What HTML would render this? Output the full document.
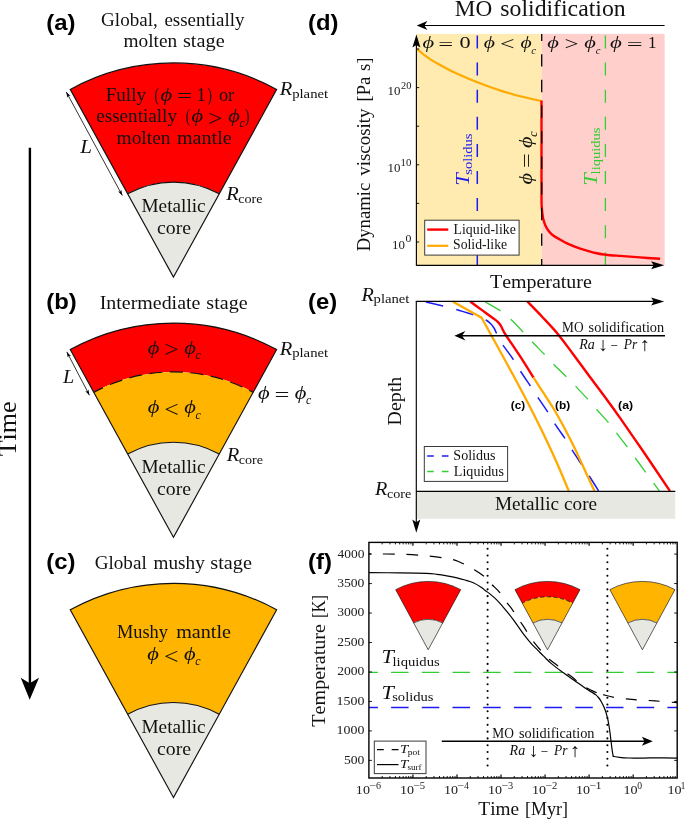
<!DOCTYPE html>
<html lang="en"><head><meta charset="utf-8"><title>Magma ocean solidification stages</title>
<style>html,body{margin:0;padding:0;background:#fff;}svg{display:block;font-family:"Liberation Serif", "DejaVu Serif", serif;fill:#111;font-kerning:none;}.sn{font-family:"Liberation Sans", "DejaVu Sans", sans-serif;}</style>
</head><body>
<svg width="685" height="820" viewBox="0 0 685 820">
<rect width="685" height="820" fill="#fff"/>
<line x1="29.90" y1="147.70" x2="29.90" y2="685.00" stroke="#000" stroke-width="2.4" />
<polygon points="29.7,699.8 20.7,677.8 29.7,683.3 39,677.8" fill="#000"/>
<text transform="translate(15.90 455.90) rotate(-90)" x="-0.47" y="0" font-size="24.4" textLength="55.08" lengthAdjust="spacingAndGlyphs" >Time</text>
<text x="46.21" y="29.60" font-size="22.9" textLength="29.18" lengthAdjust="spacingAndGlyphs" font-weight="bold" class="sn" fill="#000" >(a)</text>
<text x="46.21" y="308.90" font-size="22.9" textLength="30.48" lengthAdjust="spacingAndGlyphs" font-weight="bold" class="sn" fill="#000" >(b)</text>
<text x="46.21" y="569.10" font-size="22.9" textLength="29.18" lengthAdjust="spacingAndGlyphs" font-weight="bold" class="sn" fill="#000" >(c)</text>
<text x="308.02" y="29.60" font-size="22.9" textLength="30.37" lengthAdjust="spacingAndGlyphs" font-weight="bold" class="sn" fill="#000" >(d)</text>
<text x="308.02" y="309.10" font-size="22.9" textLength="29.07" lengthAdjust="spacingAndGlyphs" font-weight="bold" class="sn" fill="#000" >(e)</text>
<text x="308.01" y="568.70" font-size="22.9" textLength="23.88" lengthAdjust="spacingAndGlyphs" font-weight="bold" class="sn" fill="#000" >(f)</text>
<path d="M127.68,193.85 L70.26,89.40 A214.20,214.20 0 0 1 276.64,89.40 L219.22,193.85 A95.00,95.00 0 0 0 127.68,193.85 Z" fill="#ff0000"/>
<path d="M173.45,277.10 L127.68,193.85 A95.00,95.00 0 0 1 219.22,193.85 Z" fill="#e8e8e3"/>
<path d="M173.45,277.10 L70.26,89.40 A214.20,214.20 0 0 1 276.64,89.40 Z" fill="none" stroke="#111" stroke-width="1.15" stroke-linejoin="miter"/>
<path d="M127.68,193.85 A95.00,95.00 0 0 1 219.22,193.85" fill="none" stroke="#111" stroke-width="1.15"/>
<text x="101.12" y="25.60" font-size="18.8" textLength="56.58" lengthAdjust="spacingAndGlyphs" >Global,</text>
<text x="164.46" y="25.60" font-size="18.8" textLength="80.01" lengthAdjust="spacingAndGlyphs" >essentially</text>
<text x="123.49" y="47.20" font-size="18.8" textLength="53.70" lengthAdjust="spacingAndGlyphs" >molten</text>
<text x="182.97" y="47.20" font-size="18.8" textLength="41.74" lengthAdjust="spacingAndGlyphs" >stage</text>
<text x="105.65" y="100.90" font-size="18.8" textLength="40.43" lengthAdjust="spacingAndGlyphs" >Fully</text>
<text x="154.62" y="100.90" font-size="18.8" textLength="4.41" lengthAdjust="spacingAndGlyphs" >(</text>
<text x="207.57" y="100.90" font-size="18.8" textLength="4.41" lengthAdjust="spacingAndGlyphs" >)</text>
<text x="218.90" y="100.90" font-size="18.8" textLength="15.26" lengthAdjust="spacingAndGlyphs" >or</text>
<text x="160.58" y="100.70" font-size="18.2" textLength="11.64" lengthAdjust="spacingAndGlyphs" font-style="italic" >ϕ</text>
<text x="177.05" y="102.40" font-size="19" textLength="15.27" lengthAdjust="spacingAndGlyphs" >=</text>
<text x="196.45" y="100.90" font-size="18.05" textLength="9.37" lengthAdjust="spacingAndGlyphs" >1</text>
<text x="96.25" y="122.40" font-size="18.8" textLength="80.72" lengthAdjust="spacingAndGlyphs" >essentially</text>
<text x="185.72" y="122.40" font-size="18.8" textLength="4.41" lengthAdjust="spacingAndGlyphs" >(</text>
<text x="244.97" y="122.40" font-size="18.8" textLength="4.41" lengthAdjust="spacingAndGlyphs" >)</text>
<text x="191.58" y="122.20" font-size="18.2" textLength="11.64" lengthAdjust="spacingAndGlyphs" font-style="italic" >ϕ</text>
<text x="208.09" y="125.70" font-size="23.5" textLength="14.54" lengthAdjust="spacingAndGlyphs" >&gt;</text>
<text x="228.18" y="122.20" font-size="18.2" textLength="11.64" lengthAdjust="spacingAndGlyphs" font-style="italic" >ϕ</text>
<text x="239.43" y="127.40" font-size="11.5" textLength="5.30" lengthAdjust="spacingAndGlyphs" font-style="italic" >c</text>
<text x="116.59" y="143.80" font-size="18.8" textLength="53.90" lengthAdjust="spacingAndGlyphs" >molten</text>
<text x="176.98" y="143.80" font-size="18.8" textLength="54.72" lengthAdjust="spacingAndGlyphs" >mantle</text>
<text x="141.44" y="212.40" font-size="18.8" textLength="64.25" lengthAdjust="spacingAndGlyphs" >Metallic</text>
<text x="157.05" y="234.40" font-size="18.8" textLength="34.04" lengthAdjust="spacingAndGlyphs" >core</text>
<text x="279.81" y="95.40" font-size="18.8" textLength="12.53" lengthAdjust="spacingAndGlyphs" font-style="italic" >R</text>
<text x="292.16" y="97.80" font-size="12.6" textLength="36.02" lengthAdjust="spacingAndGlyphs" >planet</text>
<text x="226.21" y="200.40" font-size="18.8" textLength="12.53" lengthAdjust="spacingAndGlyphs" font-style="italic" >R</text>
<text x="238.26" y="202.80" font-size="12.6" textLength="24.33" lengthAdjust="spacingAndGlyphs" >core</text>
<text x="80.25" y="153.40" font-size="18.8" textLength="11.75" lengthAdjust="spacingAndGlyphs" font-style="italic" >L</text>
<line x1="66.30" y1="92.00" x2="122.30" y2="195.50" stroke="#000" stroke-width="0.8" />
<polygon points="122.30,195.50 118.10,191.52 120.25,191.72 121.27,189.81" fill="#000"/>
<polygon points="66.30,92.00 70.50,95.98 68.35,95.78 67.33,97.69" fill="#000"/>
<path d="M93.77,392.36 L70.26,349.60 A214.20,214.20 0 0 1 276.64,349.60 L253.13,392.36 A165.40,165.40 0 0 0 93.77,392.36 Z" fill="#ff0000"/>
<path d="M127.68,454.05 L93.77,392.36 A165.40,165.40 0 0 1 253.13,392.36 L219.22,454.05 A95.00,95.00 0 0 0 127.68,454.05 Z" fill="#ffb400"/>
<path d="M173.45,537.30 L127.68,454.05 A95.00,95.00 0 0 1 219.22,454.05 Z" fill="#e8e8e3"/>
<path d="M173.45,537.30 L70.26,349.60 A214.20,214.20 0 0 1 276.64,349.60 Z" fill="none" stroke="#111" stroke-width="1.15" stroke-linejoin="miter"/>
<path d="M127.68,454.05 A95.00,95.00 0 0 1 219.22,454.05" fill="none" stroke="#111" stroke-width="1.15"/>
<path d="M93.77,392.36 A165.40,165.40 0 0 1 253.13,392.36" fill="none" stroke="#111" stroke-width="1.2" stroke-dasharray="13 7.5" stroke-dashoffset="2.5"/>
<text x="99.68" y="309.10" font-size="18.8" textLength="100.71" lengthAdjust="spacingAndGlyphs" >Intermediate</text>
<text x="206.38" y="309.10" font-size="18.8" textLength="41.22" lengthAdjust="spacingAndGlyphs" >stage</text>
<text x="147.68" y="353.70" font-size="18.2" textLength="11.64" lengthAdjust="spacingAndGlyphs" font-style="italic" >ϕ</text>
<text x="164.19" y="357.20" font-size="23.5" textLength="14.54" lengthAdjust="spacingAndGlyphs" >&gt;</text>
<text x="184.28" y="353.70" font-size="18.2" textLength="11.64" lengthAdjust="spacingAndGlyphs" font-style="italic" >ϕ</text>
<text x="195.53" y="358.90" font-size="11.5" textLength="5.30" lengthAdjust="spacingAndGlyphs" font-style="italic" >c</text>
<text x="147.68" y="413.40" font-size="18.2" textLength="11.64" lengthAdjust="spacingAndGlyphs" font-style="italic" >ϕ</text>
<text x="164.22" y="416.90" font-size="23.5" textLength="14.54" lengthAdjust="spacingAndGlyphs" >&lt;</text>
<text x="184.28" y="413.40" font-size="18.2" textLength="11.64" lengthAdjust="spacingAndGlyphs" font-style="italic" >ϕ</text>
<text x="195.53" y="418.60" font-size="11.5" textLength="5.30" lengthAdjust="spacingAndGlyphs" font-style="italic" >c</text>
<text x="258.08" y="398.90" font-size="18.2" textLength="11.64" lengthAdjust="spacingAndGlyphs" font-style="italic" >ϕ</text>
<text x="274.58" y="400.60" font-size="19" textLength="14.91" lengthAdjust="spacingAndGlyphs" >=</text>
<text x="294.68" y="398.90" font-size="18.2" textLength="11.64" lengthAdjust="spacingAndGlyphs" font-style="italic" >ϕ</text>
<text x="305.93" y="404.10" font-size="11.5" textLength="5.30" lengthAdjust="spacingAndGlyphs" font-style="italic" >c</text>
<text x="141.44" y="472.60" font-size="18.8" textLength="64.25" lengthAdjust="spacingAndGlyphs" >Metallic</text>
<text x="157.05" y="494.60" font-size="18.8" textLength="34.04" lengthAdjust="spacingAndGlyphs" >core</text>
<text x="279.81" y="355.00" font-size="18.8" textLength="12.53" lengthAdjust="spacingAndGlyphs" font-style="italic" >R</text>
<text x="292.16" y="357.40" font-size="12.6" textLength="36.02" lengthAdjust="spacingAndGlyphs" >planet</text>
<text x="226.71" y="461.30" font-size="18.8" textLength="12.53" lengthAdjust="spacingAndGlyphs" font-style="italic" >R</text>
<text x="238.76" y="463.70" font-size="12.6" textLength="24.33" lengthAdjust="spacingAndGlyphs" >core</text>
<text x="62.94" y="382.80" font-size="18.8" textLength="11.22" lengthAdjust="spacingAndGlyphs" font-style="italic" >L</text>
<line x1="66.80" y1="351.90" x2="89.40" y2="395.20" stroke="#000" stroke-width="0.8" />
<polygon points="89.40,395.20 85.26,391.16 87.41,391.39 88.45,389.49" fill="#000"/>
<polygon points="66.80,351.90 70.94,355.94 68.79,355.71 67.75,357.61" fill="#000"/>
<path d="M127.68,714.25 L70.26,609.80 A214.20,214.20 0 0 1 276.64,609.80 L219.22,714.25 A95.00,95.00 0 0 0 127.68,714.25 Z" fill="#ffb400"/>
<path d="M173.45,797.50 L127.68,714.25 A95.00,95.00 0 0 1 219.22,714.25 Z" fill="#e8e8e3"/>
<path d="M173.45,797.50 L70.26,609.80 A214.20,214.20 0 0 1 276.64,609.80 Z" fill="none" stroke="#111" stroke-width="1.15" stroke-linejoin="miter"/>
<path d="M127.68,714.25 A95.00,95.00 0 0 1 219.22,714.25" fill="none" stroke="#111" stroke-width="1.15"/>
<text x="94.72" y="569.10" font-size="18.8" textLength="51.97" lengthAdjust="spacingAndGlyphs" >Global</text>
<text x="153.60" y="569.10" font-size="18.8" textLength="51.18" lengthAdjust="spacingAndGlyphs" >mushy</text>
<text x="210.27" y="569.10" font-size="18.8" textLength="41.74" lengthAdjust="spacingAndGlyphs" >stage</text>
<text x="116.97" y="638.40" font-size="18.8" textLength="51.00" lengthAdjust="spacingAndGlyphs" >Mushy</text>
<text x="176.18" y="638.40" font-size="18.8" textLength="54.82" lengthAdjust="spacingAndGlyphs" >mantle</text>
<text x="147.38" y="660.20" font-size="18.2" textLength="11.64" lengthAdjust="spacingAndGlyphs" font-style="italic" >ϕ</text>
<text x="163.92" y="663.70" font-size="23.5" textLength="14.54" lengthAdjust="spacingAndGlyphs" >&lt;</text>
<text x="183.98" y="660.20" font-size="18.2" textLength="11.64" lengthAdjust="spacingAndGlyphs" font-style="italic" >ϕ</text>
<text x="195.23" y="665.40" font-size="11.5" textLength="5.30" lengthAdjust="spacingAndGlyphs" font-style="italic" >c</text>
<text x="141.44" y="732.80" font-size="18.8" textLength="64.25" lengthAdjust="spacingAndGlyphs" >Metallic</text>
<text x="157.05" y="754.80" font-size="18.8" textLength="34.04" lengthAdjust="spacingAndGlyphs" >core</text>
<rect x="416.4" y="33.9" width="125.30" height="231.40" fill="#ffebb0"/>
<rect x="541.7" y="33.9" width="122.90" height="231.40" fill="#ffd0cb"/>
<text x="454.83" y="16.10" font-size="22.5" textLength="37.42" lengthAdjust="spacingAndGlyphs" >MO</text>
<text x="500.33" y="16.10" font-size="22.5" textLength="125.33" lengthAdjust="spacingAndGlyphs" >solidification</text>
<line x1="424.00" y1="25.50" x2="664.60" y2="25.50" stroke="#000" stroke-width="1.2" />
<polygon points="416.70,25.50 427.40,21.05 424.40,25.50 427.40,29.95" fill="#000"/>
<line x1="477.30" y1="265.30" x2="477.30" y2="33.90" stroke="#1c1cf2" stroke-width="1.5" stroke-dasharray="13 14.1" />
<line x1="605.40" y1="265.30" x2="605.40" y2="33.90" stroke="#32cd32" stroke-width="1.3" stroke-dasharray="13 14.1" />
<path d="M416.80,49.00 C417.83,49.83 420.73,52.27 423.00,54.00 C425.27,55.73 427.57,57.57 430.40,59.40 C433.23,61.23 436.58,63.12 440.00,65.00 C443.42,66.88 446.90,68.73 450.90,70.70 C454.90,72.67 459.58,74.87 464.00,76.80 C468.42,78.73 473.07,80.60 477.40,82.30 C481.73,84.00 485.90,85.53 490.00,87.00 C494.10,88.47 498.33,89.93 502.00,91.10 C505.67,92.27 508.60,93.05 512.00,94.00 C515.40,94.95 519.07,95.97 522.40,96.80 C525.73,97.63 528.83,98.30 532.00,99.00 C535.17,99.70 539.83,100.67 541.40,101.00" fill="none" stroke="#ffaa00" stroke-width="2.2" stroke-linecap="butt" stroke-linejoin="round" />
<path d="M541.50,100.50 C541.50,108.75 541.50,134.25 541.50,150.00 C541.50,165.75 541.47,185.67 541.50,195.00 C541.53,204.33 541.57,203.00 541.70,206.00 C541.83,209.00 542.05,210.87 542.30,213.00 C542.55,215.13 542.68,216.72 543.20,218.80 C543.72,220.88 544.48,223.47 545.40,225.50 C546.32,227.53 547.35,229.28 548.70,231.00 C550.05,232.72 551.62,234.38 553.50,235.80 C555.38,237.22 557.75,238.25 560.00,239.50 C562.25,240.75 564.45,242.08 567.00,243.30 C569.55,244.52 572.13,245.63 575.30,246.80 C578.47,247.97 582.23,249.18 586.00,250.30 C589.77,251.42 594.60,252.77 597.90,253.50 C601.20,254.23 602.12,254.30 605.80,254.70 C609.48,255.10 614.30,255.45 620.00,255.90 C625.70,256.35 633.32,256.92 640.00,257.40 C646.68,257.88 656.75,258.57 660.10,258.80" fill="none" stroke="#ff0000" stroke-width="2.4" stroke-linecap="butt" stroke-linejoin="round" />
<line x1="541.70" y1="33.90" x2="541.70" y2="265.30" stroke="#000" stroke-width="1.3" stroke-dasharray="12.4 13.2" stroke-dashoffset="5.3"/>
<line x1="416.40" y1="265.30" x2="655.00" y2="265.30" stroke="#000" stroke-width="1.15" />
<polygon points="664.20,265.30 651.10,269.30 653.70,265.30 651.10,261.30" fill="#000"/>
<line x1="416.40" y1="265.85" x2="416.40" y2="44.00" stroke="#000" stroke-width="1.15" />
<polygon points="416.40,34.50 420.40,47.60 416.40,45.00 412.40,47.60" fill="#000"/>
<line x1="416.40" y1="242.00" x2="419.20" y2="242.00" stroke="#000" stroke-width="0.9" />
<line x1="416.40" y1="203.40" x2="419.20" y2="203.40" stroke="#000" stroke-width="0.9" />
<line x1="416.40" y1="164.80" x2="419.20" y2="164.80" stroke="#000" stroke-width="0.9" />
<line x1="416.40" y1="126.20" x2="419.20" y2="126.20" stroke="#000" stroke-width="0.9" />
<line x1="416.40" y1="87.60" x2="419.20" y2="87.60" stroke="#000" stroke-width="0.9" />
<line x1="416.40" y1="49.00" x2="419.20" y2="49.00" stroke="#000" stroke-width="0.9" />
<text x="401.05" y="88.80" font-size="9.6" textLength="10.35" lengthAdjust="spacingAndGlyphs" fill="#202020" >20</text>
<text x="387.46" y="95.00" font-size="12.2" textLength="12.93" lengthAdjust="spacingAndGlyphs" fill="#202020" >10</text>
<text x="400.54" y="166.00" font-size="9.6" textLength="10.87" lengthAdjust="spacingAndGlyphs" fill="#202020" >10</text>
<text x="387.46" y="172.20" font-size="12.2" textLength="12.93" lengthAdjust="spacingAndGlyphs" fill="#202020" >10</text>
<text x="405.55" y="242.40" font-size="9.6" textLength="5.90" lengthAdjust="spacingAndGlyphs" fill="#202020" >0</text>
<text x="391.96" y="248.60" font-size="12.2" textLength="12.93" lengthAdjust="spacingAndGlyphs" fill="#202020" >10</text>
<g transform="translate(370.40 250.70) rotate(-90)">
<text x="-0.54" y="0.00" font-size="18.8" textLength="68.41" lengthAdjust="spacingAndGlyphs" >Dynamic</text>
<text x="75.00" y="0.00" font-size="18.8" textLength="67.17" lengthAdjust="spacingAndGlyphs" >viscosity</text>
<text x="149.23" y="0.00" font-size="18.8" textLength="24.62" lengthAdjust="spacingAndGlyphs" >[Pa</text>
<text x="179.73" y="0.00" font-size="18.8" textLength="13.56" lengthAdjust="spacingAndGlyphs" >s]</text>
</g>
<text x="490.04" y="288.40" font-size="18.5" textLength="101.75" lengthAdjust="spacingAndGlyphs" >Temperature</text>
<text x="422.48" y="48.20" font-size="17" textLength="11.64" lengthAdjust="spacingAndGlyphs" font-style="italic" >ϕ</text>
<text x="438.38" y="49.50" font-size="17.5" textLength="14.91" lengthAdjust="spacingAndGlyphs" >=</text>
<text x="459.46" y="48.20" font-size="16.5" textLength="11.09" lengthAdjust="spacingAndGlyphs" >0</text>
<text x="483.80" y="48.20" font-size="17" textLength="11.20" lengthAdjust="spacingAndGlyphs" font-style="italic" >ϕ</text>
<text x="500.02" y="49.80" font-size="19.7" textLength="14.54" lengthAdjust="spacingAndGlyphs" >&lt;</text>
<text x="520.40" y="48.20" font-size="17" textLength="11.20" lengthAdjust="spacingAndGlyphs" font-style="italic" >ϕ</text>
<text x="531.26" y="53.50" font-size="10.5" textLength="4.85" lengthAdjust="spacingAndGlyphs" font-style="italic" >c</text>
<text x="547.18" y="48.20" font-size="17" textLength="11.64" lengthAdjust="spacingAndGlyphs" font-style="italic" >ϕ</text>
<text x="564.43" y="49.80" font-size="19.7" textLength="14.06" lengthAdjust="spacingAndGlyphs" >&gt;</text>
<text x="584.38" y="48.20" font-size="17" textLength="11.64" lengthAdjust="spacingAndGlyphs" font-style="italic" >ϕ</text>
<text x="595.67" y="53.50" font-size="10.5" textLength="4.74" lengthAdjust="spacingAndGlyphs" font-style="italic" >c</text>
<text x="609.97" y="48.20" font-size="17" textLength="11.86" lengthAdjust="spacingAndGlyphs" font-style="italic" >ϕ</text>
<text x="626.70" y="49.50" font-size="17.5" textLength="15.88" lengthAdjust="spacingAndGlyphs" >=</text>
<text x="648.00" y="48.20" font-size="16.5" textLength="8.52" lengthAdjust="spacingAndGlyphs" >1</text>
<g transform="translate(469.00 184.20) rotate(-90)">
<text x="-1.48" y="0.00" font-size="18.8" textLength="12.54" lengthAdjust="spacingAndGlyphs" font-style="italic" fill="#1c1cf2" >T</text>
<text x="9.50" y="2.50" font-size="12.6" textLength="41.22" lengthAdjust="spacingAndGlyphs" fill="#1c1cf2" >solidus</text>
</g>
<g transform="translate(597.00 184.20) rotate(-90)">
<text x="-1.48" y="0.00" font-size="18.8" textLength="12.54" lengthAdjust="spacingAndGlyphs" font-style="italic" fill="#32cd32" >T</text>
<text x="9.81" y="2.50" font-size="12.6" textLength="46.82" lengthAdjust="spacingAndGlyphs" fill="#32cd32" >liquidus</text>
</g>
<g transform="translate(531.90 184.20) rotate(-90)">
<text x="-0.32" y="-0.20" font-size="18.2" textLength="11.60" lengthAdjust="spacingAndGlyphs" font-style="italic" >ϕ</text>
<text x="16.12" y="1.50" font-size="19" textLength="14.85" lengthAdjust="spacingAndGlyphs" >=</text>
<text x="36.15" y="-0.20" font-size="18.2" textLength="11.60" lengthAdjust="spacingAndGlyphs" font-style="italic" >ϕ</text>
<text x="47.35" y="5.00" font-size="11.5" textLength="5.28" lengthAdjust="spacingAndGlyphs" font-style="italic" >c</text>
</g>
<rect x="424.7" y="220.2" width="94.4" height="34.9" fill="#fff" stroke="#3a3a3a" stroke-width="1"/>
<line x1="427.20" y1="229.60" x2="448.30" y2="229.60" stroke="#ff0000" stroke-width="2.4" />
<line x1="427.20" y1="245.80" x2="448.30" y2="245.80" stroke="#ffaa00" stroke-width="2.2" />
<text x="453.60" y="233.50" font-size="13.8" textLength="62.18" lengthAdjust="spacingAndGlyphs" >Liquid-like</text>
<text x="453.08" y="249.20" font-size="13.8" textLength="53.99" lengthAdjust="spacingAndGlyphs" >Solid-like</text>
<rect x="416.3" y="491.4" width="259.00" height="27.40" fill="#e8e8e3"/>
<path d="M425.90,301.90 C428.75,302.58 437.95,304.75 443.00,306.00 C448.05,307.25 451.23,307.97 456.20,309.40 C461.17,310.83 468.67,313.25 472.80,314.60 C476.93,315.95 478.80,316.60 481.00,317.50 C483.20,318.40 484.42,319.00 486.00,320.00 C487.58,321.00 489.17,322.17 490.50,323.50 C491.83,324.83 493.00,326.38 494.00,328.00 C495.00,329.62 495.58,331.37 496.50,333.20 C497.42,335.03 498.33,336.90 499.50,339.00 C500.67,341.10 501.17,342.33 503.50,345.80 C505.83,349.27 510.58,355.43 513.50,359.80 C516.42,364.17 518.13,367.57 521.00,372.00 C523.87,376.43 527.83,382.10 530.70,386.40 C533.57,390.70 535.28,393.42 538.20,397.80 C541.12,402.18 545.37,408.27 548.20,412.70 C551.03,417.13 552.28,419.93 555.20,424.40 C558.12,428.87 562.87,435.20 565.70,439.50 C568.53,443.80 569.57,446.05 572.20,450.20 C574.83,454.35 578.50,459.85 581.50,464.40 C584.50,468.95 587.32,473.03 590.20,477.50 C593.08,481.97 597.37,488.92 598.80,491.20" fill="none" stroke="#1c1cf2" stroke-width="1.5" stroke-dasharray="17.7 13.6" stroke-linecap="butt" stroke-linejoin="round" />
<path d="M485.10,301.80 C487.72,303.35 496.48,308.15 500.80,311.10 C505.12,314.05 507.20,315.93 511.00,319.50 C514.80,323.07 520.10,328.80 523.60,332.50 C527.10,336.20 528.55,338.07 532.00,341.70 C535.45,345.33 540.72,350.55 544.30,354.30 C547.88,358.05 549.70,360.33 553.50,364.20 C557.30,368.07 563.40,373.80 567.10,377.50 C570.80,381.20 572.20,382.73 575.70,386.40 C579.20,390.07 584.60,395.65 588.10,399.50 C591.60,403.35 593.22,405.55 596.70,409.50 C600.18,413.45 605.62,419.17 609.00,423.20 C612.38,427.23 613.83,429.57 617.00,433.70 C620.17,437.83 624.17,442.87 628.00,448.00 C631.83,453.13 634.75,457.30 640.00,464.50 C645.25,471.70 656.25,486.75 659.50,491.20" fill="none" stroke="#32cd32" stroke-width="1.3" stroke-dasharray="17.8 13.3" stroke-linecap="butt" stroke-linejoin="round" />
<polyline points="452.70,301.50 481.60,317.80" fill="none" stroke="#ffaa00" stroke-width="2.3" stroke-linejoin="round" />
<path d="M481.60,317.80 C484.25,322.58 492.25,336.97 497.50,346.50 C502.75,356.03 507.93,365.42 513.10,375.00 C518.27,384.58 523.53,394.37 528.50,404.00 C533.47,413.63 538.23,423.13 542.90,432.80 C547.57,442.47 552.17,452.27 556.50,462.00 C560.83,471.73 566.83,486.33 568.90,491.20" fill="none" stroke="#ffaa00" stroke-width="2.3" stroke-linecap="round" stroke-linejoin="round" />
<path d="M470.20,301.50 C472.17,302.93 478.07,307.23 482.00,310.10 C485.93,312.97 491.22,316.78 493.80,318.70 C496.38,320.62 496.38,320.52 497.50,321.60 C498.62,322.68 499.37,323.35 500.50,325.20 C501.63,327.05 503.05,330.52 504.30,332.70 C505.55,334.88 505.38,334.38 508.00,338.30 C510.62,342.22 515.75,349.67 520.00,356.20 C524.25,362.73 531.25,373.95 533.50,377.50" fill="none" stroke="#ff0000" stroke-width="2.4" stroke-linecap="butt" stroke-linejoin="round" />
<path d="M533.50,377.50 C535.08,379.95 539.82,387.28 543.00,392.20 C546.18,397.12 549.43,401.78 552.60,407.00 C555.77,412.22 559.08,418.17 562.00,423.50 C564.92,428.83 567.77,434.42 570.10,439.00 C572.43,443.58 574.02,446.83 576.00,451.00 C577.98,455.17 578.90,457.30 582.00,464.00 C585.10,470.70 592.50,486.67 594.60,491.20" fill="none" stroke="#ffaa00" stroke-width="2.3" stroke-linecap="butt" stroke-linejoin="round" />
<path d="M527.30,301.50 C529.92,304.20 537.82,312.17 543.00,317.70 C548.18,323.23 553.40,328.65 558.40,334.70 C563.40,340.75 567.98,347.28 573.00,354.00 C578.02,360.72 583.27,367.95 588.50,375.00 C593.73,382.05 599.15,389.15 604.40,396.30 C609.65,403.45 613.23,408.28 620.00,417.90 C626.77,427.52 636.67,441.78 645.00,454.00 C653.33,466.22 665.83,485.00 670.00,491.20" fill="none" stroke="#ff0000" stroke-width="2.4" stroke-linecap="butt" stroke-linejoin="round" />
<line x1="416.30" y1="491.30" x2="675.30" y2="491.30" stroke="#000" stroke-width="1.2" />
<line x1="415.75" y1="301.40" x2="655.00" y2="301.40" stroke="#000" stroke-width="1.15" />
<polygon points="664.20,301.40 651.10,305.40 653.70,301.40 651.10,297.40" fill="#000"/>
<line x1="416.30" y1="301.40" x2="416.30" y2="523.00" stroke="#000" stroke-width="1.15" />
<polygon points="416.30,532.70 412.30,519.60 416.30,522.20 420.30,519.60" fill="#000"/>
<line x1="461.00" y1="335.80" x2="665.00" y2="335.80" stroke="#000" stroke-width="1.4" />
<polygon points="454.40,335.80 465.40,331.10 462.00,335.80 465.40,340.50" fill="#000"/>
<text x="562.02" y="332.00" font-size="13.9" textLength="21.53" lengthAdjust="spacingAndGlyphs" >MO</text>
<text x="588.61" y="332.00" font-size="13.9" textLength="75.60" lengthAdjust="spacingAndGlyphs" >solidification</text>
<text x="579.28" y="349.00" font-size="13.9" textLength="15.65" lengthAdjust="spacingAndGlyphs" font-style="italic" >Ra</text>
<text x="598.12" y="351.00" font-size="19" textLength="10.45" lengthAdjust="spacingAndGlyphs" >↓</text>
<text x="611.18" y="349.00" font-size="13.9" textLength="5.94" lengthAdjust="spacingAndGlyphs" >–</text>
<text x="623.77" y="349.00" font-size="13.9" textLength="13.49" lengthAdjust="spacingAndGlyphs" font-style="italic" >Pr</text>
<text x="639.82" y="351.00" font-size="19" textLength="10.45" lengthAdjust="spacingAndGlyphs" >↑</text>
<text x="361.41" y="301.00" font-size="18.8" textLength="12.33" lengthAdjust="spacingAndGlyphs" font-style="italic" >R</text>
<text x="373.56" y="303.40" font-size="12.6" textLength="35.92" lengthAdjust="spacingAndGlyphs" >planet</text>
<text x="375.11" y="495.40" font-size="18.8" textLength="12.33" lengthAdjust="spacingAndGlyphs" font-style="italic" >R</text>
<text x="386.96" y="497.80" font-size="12.6" textLength="24.33" lengthAdjust="spacingAndGlyphs" >core</text>
<text transform="translate(401.00 424.90) rotate(-90)" x="-0.57" y="0" font-size="18.8" textLength="48.64" lengthAdjust="spacingAndGlyphs" >Depth</text>
<text x="494.95" y="509.80" font-size="18.8" textLength="64.15" lengthAdjust="spacingAndGlyphs" >Metallic</text>
<text x="564.07" y="509.80" font-size="18.8" textLength="33.00" lengthAdjust="spacingAndGlyphs" >core</text>
<text x="510.82" y="409.20" font-size="11.2" textLength="14.26" lengthAdjust="spacingAndGlyphs" font-weight="bold" class="sn" fill="#000" >(c)</text>
<text x="555.11" y="409.20" font-size="11.2" textLength="15.18" lengthAdjust="spacingAndGlyphs" font-weight="bold" class="sn" fill="#000" >(b)</text>
<text x="618.09" y="409.20" font-size="11.2" textLength="15.02" lengthAdjust="spacingAndGlyphs" font-weight="bold" class="sn" fill="#000" >(a)</text>
<rect x="424.3" y="446.5" width="83.3" height="34.9" fill="#fff" stroke="#3a3a3a" stroke-width="1"/>
<line x1="427.20" y1="456.00" x2="448.50" y2="456.00" stroke="#1c1cf2" stroke-width="1.5" stroke-dasharray="6.6 8.1" />
<line x1="427.20" y1="471.50" x2="448.50" y2="471.50" stroke="#32cd32" stroke-width="1.4" stroke-dasharray="6.6 8.1" />
<text x="453.36" y="460.00" font-size="13.8" textLength="42.15" lengthAdjust="spacingAndGlyphs" >Solidus</text>
<text x="453.89" y="475.70" font-size="13.8" textLength="50.01" lengthAdjust="spacingAndGlyphs" >Liquidus</text>
<line x1="368.90" y1="672.40" x2="677.20" y2="672.40" stroke="#32cd32" stroke-width="1.3" stroke-dasharray="17.5 13.2" stroke-dashoffset="8.5"/>
<line x1="368.90" y1="707.60" x2="677.20" y2="707.60" stroke="#1c1cf2" stroke-width="1.5" stroke-dasharray="17.5 13.2" stroke-dashoffset="8.5"/>
<line x1="487.6" y1="765.5" x2="487.6" y2="543" stroke="#000" stroke-width="2.1" stroke-linecap="round" stroke-dasharray="0 6.775"/>
<line x1="607.4" y1="765.5" x2="607.4" y2="543" stroke="#000" stroke-width="2.1" stroke-linecap="round" stroke-dasharray="0 6.775"/>
<path d="M368.90,553.90 C374.08,553.95 391.45,553.98 400.00,554.20 C408.55,554.42 414.87,554.85 420.20,555.20 C425.53,555.55 428.08,555.83 432.00,556.30 C435.92,556.77 440.22,557.45 443.70,558.00 C447.18,558.55 450.35,558.98 452.90,559.60 C455.45,560.22 456.97,560.88 459.00,561.70 C461.03,562.52 463.27,563.62 465.10,564.50 C466.93,565.38 468.47,566.15 470.00,567.00 C471.53,567.85 472.72,568.60 474.30,569.60 C475.88,570.60 477.78,571.80 479.50,573.00 C481.22,574.20 483.18,575.55 484.60,576.80 C486.02,578.05 486.77,579.18 488.00,580.50 C489.23,581.82 490.07,582.73 492.00,584.70 C493.93,586.67 497.17,589.38 499.60,592.30 C502.03,595.22 504.37,599.15 506.60,602.20 C508.83,605.25 510.80,607.48 513.00,610.60 C515.20,613.72 517.70,617.73 519.80,620.90 C521.90,624.07 523.52,626.40 525.60,629.60 C527.68,632.80 530.12,637.03 532.30,640.10 C534.48,643.17 536.27,645.13 538.70,648.00 C541.13,650.87 544.15,654.68 546.90,657.30 C549.65,659.92 552.27,661.33 555.20,663.70 C558.13,666.07 561.48,669.12 564.50,671.50 C567.52,673.88 570.38,675.70 573.30,678.00 C576.22,680.30 578.88,683.20 582.00,685.30 C585.12,687.40 589.33,689.27 592.00,690.60 C594.67,691.93 596.13,692.62 598.00,693.30 C599.87,693.98 602.33,694.47 603.20,694.70" fill="none" stroke="#000" stroke-width="1.2" stroke-dasharray="11.6 11.9" stroke-linecap="butt" stroke-linejoin="round" stroke-dashoffset="9.5"/>
<path d="M603.20,694.70 C604.98,695.13 610.08,696.62 613.90,697.30 C617.72,697.98 622.28,698.38 626.10,698.80 C629.92,699.22 631.98,699.45 636.80,699.80 C641.62,700.15 648.30,700.42 655.00,700.90 C661.70,701.38 673.33,702.40 677.00,702.70" fill="none" stroke="#000" stroke-width="1.2" stroke-dasharray="11 12" stroke-linecap="butt" stroke-linejoin="round" />
<path d="M368.90,572.70 C374.08,572.72 390.43,572.70 400.00,572.80 C409.57,572.90 420.13,573.05 426.30,573.30 C432.47,573.55 433.58,573.88 437.00,574.30 C440.42,574.72 443.47,575.22 446.80,575.80 C450.13,576.38 453.97,577.10 457.00,577.80 C460.03,578.50 462.28,579.18 465.00,580.00 C467.72,580.82 470.55,581.47 473.30,582.70 C476.05,583.93 479.55,586.13 481.50,587.40 C483.45,588.67 483.45,589.10 485.00,590.30 C486.55,591.50 488.85,593.00 490.80,594.60 C492.75,596.20 494.75,597.95 496.70,599.90 C498.65,601.85 500.55,604.07 502.50,606.30 C504.45,608.53 506.45,610.87 508.40,613.30 C510.35,615.73 512.27,618.27 514.20,620.90 C516.13,623.53 518.05,626.38 520.00,629.10 C521.95,631.82 523.95,634.68 525.90,637.20 C527.85,639.72 529.75,642.05 531.70,644.20 C533.65,646.35 535.65,648.15 537.60,650.10 C539.55,652.05 541.05,653.60 543.40,655.90 C545.75,658.20 548.37,661.10 551.70,663.90 C555.03,666.70 559.52,669.87 563.40,672.70 C567.28,675.53 571.12,678.17 575.00,680.90 C578.88,683.63 583.87,687.20 586.70,689.10 C589.53,691.00 590.47,691.33 592.00,692.30 C593.53,693.27 594.83,694.03 595.90,694.90 C596.97,695.77 597.60,696.53 598.40,697.50 C599.20,698.47 599.67,698.87 600.70,700.70 C601.73,702.53 603.45,705.57 604.60,708.50 C605.75,711.43 606.78,714.88 607.60,718.30 C608.42,721.72 608.93,725.27 609.50,729.00 C610.07,732.73 610.55,737.12 611.00,740.70 C611.45,744.28 611.83,747.90 612.20,750.50 C612.57,753.10 613.03,755.33 613.20,756.30" fill="none" stroke="#000" stroke-width="1.2" stroke-linecap="butt" stroke-linejoin="round" />
<path d="M613.20,756.30 C614.22,756.47 616.67,757.02 619.30,757.30 C621.93,757.58 625.55,757.85 629.00,758.00 C632.45,758.15 636.50,758.22 640.00,758.20 C643.50,758.18 643.83,757.92 650.00,757.90 C656.17,757.88 672.50,758.07 677.00,758.10" fill="none" stroke="#000" stroke-width="1.2" stroke-linecap="round" stroke-linejoin="round" />
<rect x="368.9" y="542.4" width="308.30" height="235.60" fill="none" stroke="#000" stroke-width="1.4"/>
<line x1="368.90" y1="760.39" x2="371.90" y2="760.39" stroke="#000" stroke-width="0.9" />
<line x1="677.20" y1="760.39" x2="674.20" y2="760.39" stroke="#000" stroke-width="0.9" />
<text x="343.91" y="763.79" font-size="12.8" textLength="20.52" lengthAdjust="spacingAndGlyphs" fill="#202020" >500</text>
<line x1="368.90" y1="730.92" x2="371.90" y2="730.92" stroke="#000" stroke-width="0.9" />
<line x1="677.20" y1="730.92" x2="674.20" y2="730.92" stroke="#000" stroke-width="0.9" />
<text x="336.58" y="734.32" font-size="12.8" textLength="27.85" lengthAdjust="spacingAndGlyphs" fill="#202020" >1000</text>
<line x1="368.90" y1="701.45" x2="371.90" y2="701.45" stroke="#000" stroke-width="0.9" />
<line x1="677.20" y1="701.45" x2="674.20" y2="701.45" stroke="#000" stroke-width="0.9" />
<text x="336.58" y="704.85" font-size="12.8" textLength="27.85" lengthAdjust="spacingAndGlyphs" fill="#202020" >1500</text>
<line x1="368.90" y1="671.98" x2="371.90" y2="671.98" stroke="#000" stroke-width="0.9" />
<line x1="677.20" y1="671.98" x2="674.20" y2="671.98" stroke="#000" stroke-width="0.9" />
<text x="337.20" y="675.38" font-size="12.8" textLength="27.22" lengthAdjust="spacingAndGlyphs" fill="#202020" >2000</text>
<line x1="368.90" y1="642.51" x2="371.90" y2="642.51" stroke="#000" stroke-width="0.9" />
<line x1="677.20" y1="642.51" x2="674.20" y2="642.51" stroke="#000" stroke-width="0.9" />
<text x="337.20" y="645.91" font-size="12.8" textLength="27.22" lengthAdjust="spacingAndGlyphs" fill="#202020" >2500</text>
<line x1="368.90" y1="613.04" x2="371.90" y2="613.04" stroke="#000" stroke-width="0.9" />
<line x1="677.20" y1="613.04" x2="674.20" y2="613.04" stroke="#000" stroke-width="0.9" />
<text x="337.15" y="616.44" font-size="12.8" textLength="27.27" lengthAdjust="spacingAndGlyphs" fill="#202020" >3000</text>
<line x1="368.90" y1="583.57" x2="371.90" y2="583.57" stroke="#000" stroke-width="0.9" />
<line x1="677.20" y1="583.57" x2="674.20" y2="583.57" stroke="#000" stroke-width="0.9" />
<text x="337.15" y="586.97" font-size="12.8" textLength="27.27" lengthAdjust="spacingAndGlyphs" fill="#202020" >3500</text>
<line x1="368.90" y1="554.10" x2="371.90" y2="554.10" stroke="#000" stroke-width="0.9" />
<line x1="677.20" y1="554.10" x2="674.20" y2="554.10" stroke="#000" stroke-width="0.9" />
<text x="337.54" y="557.50" font-size="12.8" textLength="26.87" lengthAdjust="spacingAndGlyphs" fill="#202020" >4000</text>
<line x1="382.16" y1="778.00" x2="382.16" y2="776.00" stroke="#000" stroke-width="0.9" />
<line x1="382.16" y1="542.40" x2="382.16" y2="544.40" stroke="#000" stroke-width="0.9" />
<line x1="389.91" y1="778.00" x2="389.91" y2="776.00" stroke="#000" stroke-width="0.9" />
<line x1="389.91" y1="542.40" x2="389.91" y2="544.40" stroke="#000" stroke-width="0.9" />
<line x1="395.42" y1="778.00" x2="395.42" y2="776.00" stroke="#000" stroke-width="0.9" />
<line x1="395.42" y1="542.40" x2="395.42" y2="544.40" stroke="#000" stroke-width="0.9" />
<line x1="399.68" y1="778.00" x2="399.68" y2="776.00" stroke="#000" stroke-width="0.9" />
<line x1="399.68" y1="542.40" x2="399.68" y2="544.40" stroke="#000" stroke-width="0.9" />
<line x1="403.17" y1="778.00" x2="403.17" y2="776.00" stroke="#000" stroke-width="0.9" />
<line x1="403.17" y1="542.40" x2="403.17" y2="544.40" stroke="#000" stroke-width="0.9" />
<line x1="406.12" y1="778.00" x2="406.12" y2="776.00" stroke="#000" stroke-width="0.9" />
<line x1="406.12" y1="542.40" x2="406.12" y2="544.40" stroke="#000" stroke-width="0.9" />
<line x1="408.67" y1="778.00" x2="408.67" y2="776.00" stroke="#000" stroke-width="0.9" />
<line x1="408.67" y1="542.40" x2="408.67" y2="544.40" stroke="#000" stroke-width="0.9" />
<line x1="410.93" y1="778.00" x2="410.93" y2="776.00" stroke="#000" stroke-width="0.9" />
<line x1="410.93" y1="542.40" x2="410.93" y2="544.40" stroke="#000" stroke-width="0.9" />
<text x="355.86" y="794.10" font-size="12.8" textLength="14.07" lengthAdjust="spacingAndGlyphs" fill="#202020" >10</text>
<text x="369.30" y="789.30" font-size="9.8" textLength="6.79" lengthAdjust="spacingAndGlyphs" fill="#202020" >−</text>
<text x="375.97" y="789.30" font-size="9.8" textLength="5.03" lengthAdjust="spacingAndGlyphs" fill="#202020" >6</text>
<line x1="412.94" y1="778.00" x2="412.94" y2="774.60" stroke="#000" stroke-width="1.2" />
<line x1="412.94" y1="542.40" x2="412.94" y2="545.80" stroke="#000" stroke-width="1.2" />
<line x1="426.20" y1="778.00" x2="426.20" y2="776.00" stroke="#000" stroke-width="0.9" />
<line x1="426.20" y1="542.40" x2="426.20" y2="544.40" stroke="#000" stroke-width="0.9" />
<line x1="433.96" y1="778.00" x2="433.96" y2="776.00" stroke="#000" stroke-width="0.9" />
<line x1="433.96" y1="542.40" x2="433.96" y2="544.40" stroke="#000" stroke-width="0.9" />
<line x1="439.46" y1="778.00" x2="439.46" y2="776.00" stroke="#000" stroke-width="0.9" />
<line x1="439.46" y1="542.40" x2="439.46" y2="544.40" stroke="#000" stroke-width="0.9" />
<line x1="443.73" y1="778.00" x2="443.73" y2="776.00" stroke="#000" stroke-width="0.9" />
<line x1="443.73" y1="542.40" x2="443.73" y2="544.40" stroke="#000" stroke-width="0.9" />
<line x1="447.21" y1="778.00" x2="447.21" y2="776.00" stroke="#000" stroke-width="0.9" />
<line x1="447.21" y1="542.40" x2="447.21" y2="544.40" stroke="#000" stroke-width="0.9" />
<line x1="450.16" y1="778.00" x2="450.16" y2="776.00" stroke="#000" stroke-width="0.9" />
<line x1="450.16" y1="542.40" x2="450.16" y2="544.40" stroke="#000" stroke-width="0.9" />
<line x1="452.72" y1="778.00" x2="452.72" y2="776.00" stroke="#000" stroke-width="0.9" />
<line x1="452.72" y1="542.40" x2="452.72" y2="544.40" stroke="#000" stroke-width="0.9" />
<line x1="454.97" y1="778.00" x2="454.97" y2="776.00" stroke="#000" stroke-width="0.9" />
<line x1="454.97" y1="542.40" x2="454.97" y2="544.40" stroke="#000" stroke-width="0.9" />
<text x="399.91" y="794.10" font-size="12.8" textLength="14.07" lengthAdjust="spacingAndGlyphs" fill="#202020" >10</text>
<text x="413.34" y="789.30" font-size="9.8" textLength="6.79" lengthAdjust="spacingAndGlyphs" fill="#202020" >−</text>
<text x="419.82" y="789.30" font-size="9.8" textLength="5.34" lengthAdjust="spacingAndGlyphs" fill="#202020" >5</text>
<line x1="456.99" y1="778.00" x2="456.99" y2="774.60" stroke="#000" stroke-width="1.2" />
<line x1="456.99" y1="542.40" x2="456.99" y2="545.80" stroke="#000" stroke-width="1.2" />
<line x1="470.24" y1="778.00" x2="470.24" y2="776.00" stroke="#000" stroke-width="0.9" />
<line x1="470.24" y1="542.40" x2="470.24" y2="544.40" stroke="#000" stroke-width="0.9" />
<line x1="478.00" y1="778.00" x2="478.00" y2="776.00" stroke="#000" stroke-width="0.9" />
<line x1="478.00" y1="542.40" x2="478.00" y2="544.40" stroke="#000" stroke-width="0.9" />
<line x1="483.50" y1="778.00" x2="483.50" y2="776.00" stroke="#000" stroke-width="0.9" />
<line x1="483.50" y1="542.40" x2="483.50" y2="544.40" stroke="#000" stroke-width="0.9" />
<line x1="487.77" y1="778.00" x2="487.77" y2="776.00" stroke="#000" stroke-width="0.9" />
<line x1="487.77" y1="542.40" x2="487.77" y2="544.40" stroke="#000" stroke-width="0.9" />
<line x1="491.26" y1="778.00" x2="491.26" y2="776.00" stroke="#000" stroke-width="0.9" />
<line x1="491.26" y1="542.40" x2="491.26" y2="544.40" stroke="#000" stroke-width="0.9" />
<line x1="494.21" y1="778.00" x2="494.21" y2="776.00" stroke="#000" stroke-width="0.9" />
<line x1="494.21" y1="542.40" x2="494.21" y2="544.40" stroke="#000" stroke-width="0.9" />
<line x1="496.76" y1="778.00" x2="496.76" y2="776.00" stroke="#000" stroke-width="0.9" />
<line x1="496.76" y1="542.40" x2="496.76" y2="544.40" stroke="#000" stroke-width="0.9" />
<line x1="499.01" y1="778.00" x2="499.01" y2="776.00" stroke="#000" stroke-width="0.9" />
<line x1="499.01" y1="542.40" x2="499.01" y2="544.40" stroke="#000" stroke-width="0.9" />
<text x="443.95" y="794.10" font-size="12.8" textLength="14.07" lengthAdjust="spacingAndGlyphs" fill="#202020" >10</text>
<text x="457.39" y="789.30" font-size="9.8" textLength="6.79" lengthAdjust="spacingAndGlyphs" fill="#202020" >−</text>
<text x="464.31" y="789.30" font-size="9.8" textLength="4.63" lengthAdjust="spacingAndGlyphs" fill="#202020" >4</text>
<line x1="501.03" y1="778.00" x2="501.03" y2="774.60" stroke="#000" stroke-width="1.2" />
<line x1="501.03" y1="542.40" x2="501.03" y2="545.80" stroke="#000" stroke-width="1.2" />
<line x1="514.29" y1="778.00" x2="514.29" y2="776.00" stroke="#000" stroke-width="0.9" />
<line x1="514.29" y1="542.40" x2="514.29" y2="544.40" stroke="#000" stroke-width="0.9" />
<line x1="522.04" y1="778.00" x2="522.04" y2="776.00" stroke="#000" stroke-width="0.9" />
<line x1="522.04" y1="542.40" x2="522.04" y2="544.40" stroke="#000" stroke-width="0.9" />
<line x1="527.55" y1="778.00" x2="527.55" y2="776.00" stroke="#000" stroke-width="0.9" />
<line x1="527.55" y1="542.40" x2="527.55" y2="544.40" stroke="#000" stroke-width="0.9" />
<line x1="531.81" y1="778.00" x2="531.81" y2="776.00" stroke="#000" stroke-width="0.9" />
<line x1="531.81" y1="542.40" x2="531.81" y2="544.40" stroke="#000" stroke-width="0.9" />
<line x1="535.30" y1="778.00" x2="535.30" y2="776.00" stroke="#000" stroke-width="0.9" />
<line x1="535.30" y1="542.40" x2="535.30" y2="544.40" stroke="#000" stroke-width="0.9" />
<line x1="538.25" y1="778.00" x2="538.25" y2="776.00" stroke="#000" stroke-width="0.9" />
<line x1="538.25" y1="542.40" x2="538.25" y2="544.40" stroke="#000" stroke-width="0.9" />
<line x1="540.80" y1="778.00" x2="540.80" y2="776.00" stroke="#000" stroke-width="0.9" />
<line x1="540.80" y1="542.40" x2="540.80" y2="544.40" stroke="#000" stroke-width="0.9" />
<line x1="543.06" y1="778.00" x2="543.06" y2="776.00" stroke="#000" stroke-width="0.9" />
<line x1="543.06" y1="542.40" x2="543.06" y2="544.40" stroke="#000" stroke-width="0.9" />
<text x="487.99" y="794.10" font-size="12.8" textLength="14.07" lengthAdjust="spacingAndGlyphs" fill="#202020" >10</text>
<text x="501.43" y="789.30" font-size="9.8" textLength="6.79" lengthAdjust="spacingAndGlyphs" fill="#202020" >−</text>
<text x="508.03" y="789.30" font-size="9.8" textLength="5.20" lengthAdjust="spacingAndGlyphs" fill="#202020" >3</text>
<line x1="545.07" y1="778.00" x2="545.07" y2="774.60" stroke="#000" stroke-width="1.2" />
<line x1="545.07" y1="542.40" x2="545.07" y2="545.80" stroke="#000" stroke-width="1.2" />
<line x1="558.33" y1="778.00" x2="558.33" y2="776.00" stroke="#000" stroke-width="0.9" />
<line x1="558.33" y1="542.40" x2="558.33" y2="544.40" stroke="#000" stroke-width="0.9" />
<line x1="566.09" y1="778.00" x2="566.09" y2="776.00" stroke="#000" stroke-width="0.9" />
<line x1="566.09" y1="542.40" x2="566.09" y2="544.40" stroke="#000" stroke-width="0.9" />
<line x1="571.59" y1="778.00" x2="571.59" y2="776.00" stroke="#000" stroke-width="0.9" />
<line x1="571.59" y1="542.40" x2="571.59" y2="544.40" stroke="#000" stroke-width="0.9" />
<line x1="575.86" y1="778.00" x2="575.86" y2="776.00" stroke="#000" stroke-width="0.9" />
<line x1="575.86" y1="542.40" x2="575.86" y2="544.40" stroke="#000" stroke-width="0.9" />
<line x1="579.34" y1="778.00" x2="579.34" y2="776.00" stroke="#000" stroke-width="0.9" />
<line x1="579.34" y1="542.40" x2="579.34" y2="544.40" stroke="#000" stroke-width="0.9" />
<line x1="582.29" y1="778.00" x2="582.29" y2="776.00" stroke="#000" stroke-width="0.9" />
<line x1="582.29" y1="542.40" x2="582.29" y2="544.40" stroke="#000" stroke-width="0.9" />
<line x1="584.85" y1="778.00" x2="584.85" y2="776.00" stroke="#000" stroke-width="0.9" />
<line x1="584.85" y1="542.40" x2="584.85" y2="544.40" stroke="#000" stroke-width="0.9" />
<line x1="587.10" y1="778.00" x2="587.10" y2="776.00" stroke="#000" stroke-width="0.9" />
<line x1="587.10" y1="542.40" x2="587.10" y2="544.40" stroke="#000" stroke-width="0.9" />
<text x="532.03" y="794.10" font-size="12.8" textLength="14.07" lengthAdjust="spacingAndGlyphs" fill="#202020" >10</text>
<text x="545.47" y="789.30" font-size="9.8" textLength="6.79" lengthAdjust="spacingAndGlyphs" fill="#202020" >−</text>
<text x="552.10" y="789.30" font-size="9.8" textLength="5.36" lengthAdjust="spacingAndGlyphs" fill="#202020" >2</text>
<line x1="589.11" y1="778.00" x2="589.11" y2="774.60" stroke="#000" stroke-width="1.2" />
<line x1="589.11" y1="542.40" x2="589.11" y2="545.80" stroke="#000" stroke-width="1.2" />
<line x1="602.37" y1="778.00" x2="602.37" y2="776.00" stroke="#000" stroke-width="0.9" />
<line x1="602.37" y1="542.40" x2="602.37" y2="544.40" stroke="#000" stroke-width="0.9" />
<line x1="610.13" y1="778.00" x2="610.13" y2="776.00" stroke="#000" stroke-width="0.9" />
<line x1="610.13" y1="542.40" x2="610.13" y2="544.40" stroke="#000" stroke-width="0.9" />
<line x1="615.63" y1="778.00" x2="615.63" y2="776.00" stroke="#000" stroke-width="0.9" />
<line x1="615.63" y1="542.40" x2="615.63" y2="544.40" stroke="#000" stroke-width="0.9" />
<line x1="619.90" y1="778.00" x2="619.90" y2="776.00" stroke="#000" stroke-width="0.9" />
<line x1="619.90" y1="542.40" x2="619.90" y2="544.40" stroke="#000" stroke-width="0.9" />
<line x1="623.39" y1="778.00" x2="623.39" y2="776.00" stroke="#000" stroke-width="0.9" />
<line x1="623.39" y1="542.40" x2="623.39" y2="544.40" stroke="#000" stroke-width="0.9" />
<line x1="626.33" y1="778.00" x2="626.33" y2="776.00" stroke="#000" stroke-width="0.9" />
<line x1="626.33" y1="542.40" x2="626.33" y2="544.40" stroke="#000" stroke-width="0.9" />
<line x1="628.89" y1="778.00" x2="628.89" y2="776.00" stroke="#000" stroke-width="0.9" />
<line x1="628.89" y1="542.40" x2="628.89" y2="544.40" stroke="#000" stroke-width="0.9" />
<line x1="631.14" y1="778.00" x2="631.14" y2="776.00" stroke="#000" stroke-width="0.9" />
<line x1="631.14" y1="542.40" x2="631.14" y2="544.40" stroke="#000" stroke-width="0.9" />
<text x="576.08" y="794.10" font-size="12.8" textLength="14.07" lengthAdjust="spacingAndGlyphs" fill="#202020" >10</text>
<text x="589.51" y="789.30" font-size="9.8" textLength="6.79" lengthAdjust="spacingAndGlyphs" fill="#202020" >−</text>
<text x="595.54" y="789.30" font-size="9.8" textLength="6.11" lengthAdjust="spacingAndGlyphs" fill="#202020" >1</text>
<line x1="633.16" y1="778.00" x2="633.16" y2="774.60" stroke="#000" stroke-width="1.2" />
<line x1="633.16" y1="542.40" x2="633.16" y2="545.80" stroke="#000" stroke-width="1.2" />
<line x1="646.42" y1="778.00" x2="646.42" y2="776.00" stroke="#000" stroke-width="0.9" />
<line x1="646.42" y1="542.40" x2="646.42" y2="544.40" stroke="#000" stroke-width="0.9" />
<line x1="654.17" y1="778.00" x2="654.17" y2="776.00" stroke="#000" stroke-width="0.9" />
<line x1="654.17" y1="542.40" x2="654.17" y2="544.40" stroke="#000" stroke-width="0.9" />
<line x1="659.67" y1="778.00" x2="659.67" y2="776.00" stroke="#000" stroke-width="0.9" />
<line x1="659.67" y1="542.40" x2="659.67" y2="544.40" stroke="#000" stroke-width="0.9" />
<line x1="663.94" y1="778.00" x2="663.94" y2="776.00" stroke="#000" stroke-width="0.9" />
<line x1="663.94" y1="542.40" x2="663.94" y2="544.40" stroke="#000" stroke-width="0.9" />
<line x1="667.43" y1="778.00" x2="667.43" y2="776.00" stroke="#000" stroke-width="0.9" />
<line x1="667.43" y1="542.40" x2="667.43" y2="544.40" stroke="#000" stroke-width="0.9" />
<line x1="670.38" y1="778.00" x2="670.38" y2="776.00" stroke="#000" stroke-width="0.9" />
<line x1="670.38" y1="542.40" x2="670.38" y2="544.40" stroke="#000" stroke-width="0.9" />
<line x1="672.93" y1="778.00" x2="672.93" y2="776.00" stroke="#000" stroke-width="0.9" />
<line x1="672.93" y1="542.40" x2="672.93" y2="544.40" stroke="#000" stroke-width="0.9" />
<line x1="675.18" y1="778.00" x2="675.18" y2="776.00" stroke="#000" stroke-width="0.9" />
<line x1="675.18" y1="542.40" x2="675.18" y2="544.40" stroke="#000" stroke-width="0.9" />
<text x="623.42" y="794.10" font-size="12.8" textLength="14.07" lengthAdjust="spacingAndGlyphs" fill="#202020" >10</text>
<text x="637.19" y="789.30" font-size="9.8" textLength="4.84" lengthAdjust="spacingAndGlyphs" fill="#202020" >0</text>
<text x="667.46" y="794.10" font-size="12.8" textLength="14.07" lengthAdjust="spacingAndGlyphs" fill="#202020" >10</text>
<text x="680.80" y="789.30" font-size="9.8" textLength="4.54" lengthAdjust="spacingAndGlyphs" fill="#202020" >1</text>
<g transform="translate(324.90 726.30) rotate(-90)">
<text x="-0.36" y="0.00" font-size="18.8" textLength="102.56" lengthAdjust="spacingAndGlyphs" >Temperature</text>
<text x="108.26" y="0.00" font-size="18.8" textLength="23.18" lengthAdjust="spacingAndGlyphs" >[K]</text>
</g>
<text x="478.35" y="814.50" font-size="18.8" textLength="40.72" lengthAdjust="spacingAndGlyphs" >Time</text>
<text x="524.96" y="814.50" font-size="18.8" textLength="42.97" lengthAdjust="spacingAndGlyphs" >[Myr]</text>
<text x="381.45" y="663.10" font-size="18.8" textLength="12.34" lengthAdjust="spacingAndGlyphs" font-style="italic" >T</text>
<text x="392.51" y="665.70" font-size="12.6" textLength="47.22" lengthAdjust="spacingAndGlyphs" >liquidus</text>
<text x="381.45" y="699.10" font-size="18.8" textLength="12.34" lengthAdjust="spacingAndGlyphs" font-style="italic" >T</text>
<text x="392.20" y="701.30" font-size="12.6" textLength="41.32" lengthAdjust="spacingAndGlyphs" >solidus</text>
<line x1="441.80" y1="741.30" x2="646.00" y2="741.30" stroke="#000" stroke-width="1.5" />
<polygon points="652.80,741.30 641.90,745.85 644.50,741.30 641.90,736.75" fill="#000"/>
<text x="492.32" y="738.00" font-size="13.9" textLength="21.53" lengthAdjust="spacingAndGlyphs" >MO</text>
<text x="518.91" y="738.00" font-size="13.9" textLength="75.60" lengthAdjust="spacingAndGlyphs" >solidification</text>
<text x="509.58" y="755.00" font-size="13.9" textLength="15.65" lengthAdjust="spacingAndGlyphs" font-style="italic" >Ra</text>
<text x="528.42" y="757.00" font-size="19" textLength="10.45" lengthAdjust="spacingAndGlyphs" >↓</text>
<text x="541.48" y="755.00" font-size="13.9" textLength="5.94" lengthAdjust="spacingAndGlyphs" >–</text>
<text x="554.07" y="755.00" font-size="13.9" textLength="13.49" lengthAdjust="spacingAndGlyphs" font-style="italic" >Pr</text>
<text x="570.12" y="757.00" font-size="19" textLength="10.45" lengthAdjust="spacingAndGlyphs" >↑</text>
<rect x="374.3" y="741.1" width="51.7" height="32.5" fill="#fff" stroke="#3a3a3a" stroke-width="1"/>
<line x1="377.00" y1="749.60" x2="398.50" y2="749.60" stroke="#000" stroke-width="1.2" stroke-dasharray="6.8 7.9" />
<line x1="377.00" y1="764.60" x2="398.50" y2="764.60" stroke="#000" stroke-width="1.2" />
<text x="399.92" y="752.90" font-size="13" textLength="8.29" lengthAdjust="spacingAndGlyphs" font-style="italic" >T</text>
<text x="407.75" y="754.50" font-size="8.8" textLength="12.21" lengthAdjust="spacingAndGlyphs" >pot</text>
<text x="399.92" y="767.90" font-size="13" textLength="8.29" lengthAdjust="spacingAndGlyphs" font-style="italic" >T</text>
<text x="407.53" y="769.50" font-size="8.8" textLength="14.07" lengthAdjust="spacingAndGlyphs" >surf</text>
<path d="M413.69,622.97 L395.67,589.63 A68.40,68.40 0 0 1 460.73,589.63 L442.71,622.97 A30.50,30.50 0 0 0 413.69,622.97 Z" fill="#ff0000"/>
<path d="M428.20,649.80 L413.69,622.97 A30.50,30.50 0 0 1 442.71,622.97 Z" fill="#e8e8e3"/>
<path d="M428.20,649.80 L395.67,589.63 A68.40,68.40 0 0 1 460.73,589.63 Z" fill="none" stroke="#111" stroke-width="0.65" stroke-linejoin="miter"/>
<path d="M413.69,622.97 A30.50,30.50 0 0 1 442.71,622.97" fill="none" stroke="#111" stroke-width="0.65"/>
<path d="M522.29,603.18 L514.97,589.63 A68.40,68.40 0 0 1 580.03,589.63 L572.71,603.18 A53.00,53.00 0 0 0 522.29,603.18 Z" fill="#ff0000"/>
<path d="M532.99,622.97 L522.29,603.18 A53.00,53.00 0 0 1 572.71,603.18 L562.01,622.97 A30.50,30.50 0 0 0 532.99,622.97 Z" fill="#ffb400"/>
<path d="M547.50,649.80 L532.99,622.97 A30.50,30.50 0 0 1 562.01,622.97 Z" fill="#e8e8e3"/>
<path d="M547.50,649.80 L514.97,589.63 A68.40,68.40 0 0 1 580.03,589.63 Z" fill="none" stroke="#111" stroke-width="0.65" stroke-linejoin="miter"/>
<path d="M532.99,622.97 A30.50,30.50 0 0 1 562.01,622.97" fill="none" stroke="#111" stroke-width="0.65"/>
<path d="M522.29,603.18 A53.00,53.00 0 0 1 572.71,603.18" fill="none" stroke="#111" stroke-width="0.8" stroke-dasharray="4.2 2.4" stroke-dashoffset="1"/>
<path d="M627.89,622.97 L609.87,589.63 A68.40,68.40 0 0 1 674.93,589.63 L656.91,622.97 A30.50,30.50 0 0 0 627.89,622.97 Z" fill="#ffb400"/>
<path d="M642.40,649.80 L627.89,622.97 A30.50,30.50 0 0 1 656.91,622.97 Z" fill="#e8e8e3"/>
<path d="M642.40,649.80 L609.87,589.63 A68.40,68.40 0 0 1 674.93,589.63 Z" fill="none" stroke="#111" stroke-width="0.65" stroke-linejoin="miter"/>
<path d="M627.89,622.97 A30.50,30.50 0 0 1 656.91,622.97" fill="none" stroke="#111" stroke-width="0.65"/>
</svg>
</body></html>
